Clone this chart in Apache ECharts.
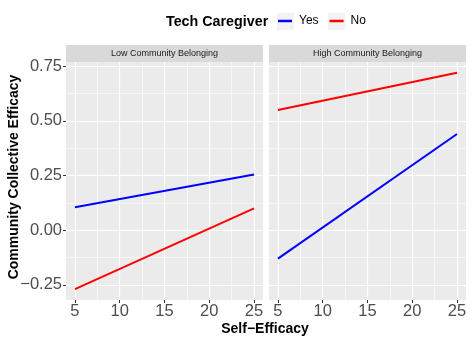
<!DOCTYPE html>
<html>
<head>
<meta charset="utf-8">
<script src="https://cdn.jsdelivr.net/npm/echarts@6/dist/echarts.min.js"></script>
<style>html,body{margin:0;padding:0;background:#fff}#c{width:474px;height:345px}</style>
</head>
<body>
<div id="c"></div>
<script>
// ---- data ----
const xValues = [5, 25];
const lowYes = [0.105, 0.255];
const lowNo = [-0.27, 0.10];
const highYes = [-0.13, 0.44];
const highNo = [0.55, 0.72];
const panelLabels = ['Low Community Belonging', 'High Community Belonging'];
const seriesNames = ['Yes', 'No'];
const xTicks = [5, 10, 15, 20, 25];
const xMinorTicks = [7.5, 12.5, 17.5, 22.5];
const yTicks = [-0.25, 0, 0.25, 0.5, 0.75];
const yMinorTicks = [-0.125, 0.125, 0.375, 0.625];

const FONT = 'Liberation Sans';
const colors = {Yes: '#0000FF', No: '#FF0000'};
const grids = [
  {left: 66, top: 62, width: 197, height: 238},
  {left: 269, top: 62, width: 197, height: 238}
];
const X_MIN = 4, X_MAX = 26, Y_MIN = -0.3195, Y_MAX = 0.7695;

const fmtY = v => (v < 0 ? '\u2212' : '') + Math.abs(v).toFixed(2);

const xAxes = [], yAxes = [];
grids.forEach((g, i) => {
  xAxes.push({
    type: 'value', gridIndex: i, min: X_MIN, max: X_MAX, position: 'bottom',
    axisLine: {show: false, onZero: false},
    axisTick: {show: true, length: 3, lineStyle: {color: '#333', width: 1}, customValues: xTicks},
    axisLabel: {show: true, customValues: xTicks, margin: 3, color: '#4d4d4d', fontSize: 16.5, fontFamily: FONT},
    splitLine: {show: true, lineStyle: {color: '#fff', width: 1.2}}
  });
  xAxes.push({
    type: 'value', gridIndex: i, min: X_MIN, max: X_MAX, position: 'bottom',
    axisLine: {show: false, onZero: false},
    axisTick: {show: false, customValues: xMinorTicks},
    axisLabel: {show: false, customValues: xMinorTicks},
    splitLine: {show: true, lineStyle: {color: '#fff', width: 0.6}}
  });
  yAxes.push({
    type: 'value', gridIndex: i, min: Y_MIN, max: Y_MAX, position: 'left',
    axisLine: {show: false, onZero: false},
    axisTick: {show: i === 0, length: 3, lineStyle: {color: '#333', width: 1}, customValues: yTicks},
    axisLabel: {show: i === 0, customValues: yTicks, margin: 4, color: '#4d4d4d', fontSize: 16.5, fontFamily: FONT, formatter: fmtY},
    splitLine: {show: true, lineStyle: {color: '#fff', width: 1.2}}
  });
  yAxes.push({
    type: 'value', gridIndex: i, min: Y_MIN, max: Y_MAX, position: 'left',
    axisLine: {show: false, onZero: false},
    axisTick: {show: false, customValues: yMinorTicks},
    axisLabel: {show: false, customValues: yMinorTicks},
    splitLine: {show: true, lineStyle: {color: '#fff', width: 0.6}}
  });
});

const panels = [[lowYes, lowNo], [highYes, highNo]];
const series = [];
panels.forEach((vals, i) => {
  vals.forEach((ys, k) => {
    const name = seriesNames[k];
    series.push({
      type: 'line', name: name, xAxisIndex: i * 2, yAxisIndex: i * 2,
      data: xValues.map((x, j) => [x, ys[j]]),
      symbol: 'none', silent: true, animation: false,
      lineStyle: {color: colors[name], width: 2},
      itemStyle: {color: colors[name]}
    });
  });
});

const graphic = [];
grids.forEach((g, i) => {
  graphic.push({
    type: 'rect', left: g.left, top: 45, shape: {width: g.width, height: 17},
    style: {fill: '#d9d9d9'}, silent: true
  });
  graphic.push({
    type: 'text', x: g.left + g.width / 2, y: 53.5,
    style: {text: panelLabels[i], fill: '#1a1a1a', font: '9px "' + FONT + '"', align: 'center', verticalAlign: 'middle'},
    silent: true
  });
});
// legend key backgrounds
[277, 328].forEach(x => graphic.push({
  type: 'rect', left: x, top: 13, shape: {width: 17, height: 17}, style: {fill: '#f2f2f2'}, silent: true, z: -1
}));
graphic.push({
  type: 'text', x: 166, y: 22,
  style: {text: 'Tech Caregiver', fill: '#000', font: 'bold 14.3px "' + FONT + '"', align: 'left', verticalAlign: 'middle'}
});
graphic.push({
  type: 'text', x: 265, y: 329,
  style: {text: 'Self\u2212Efficacy', fill: '#000', font: 'bold 14px "' + FONT + '"', align: 'center', verticalAlign: 'middle'}
});
graphic.push({
  type: 'text', x: 14, y: 177, rotation: Math.PI / 2,
  style: {text: 'Community Collective Efficacy', fill: '#000', font: 'bold 14px "' + FONT + '"', align: 'center', verticalAlign: 'middle'}
});

const option = {
  animation: false,
  backgroundColor: '#fff',
  grid: grids.map(g => Object.assign({show: true, backgroundColor: '#ebebeb', borderWidth: 0, containLabel: false}, g)),
  xAxis: xAxes,
  yAxis: yAxes,
  legend: {
    data: seriesNames, left: 278, top: 15, orient: 'horizontal',
    icon: 'rect', itemWidth: 14, itemHeight: 2.5, itemGap: 11,
    textStyle: {fontSize: 12, fontFamily: FONT, color: '#000', padding: [0, 0, 0, 2]},
    padding: 0, selectedMode: false
  },
  graphic: graphic,
  series: series
};
const chart = echarts.init(document.getElementById('c'), null, {renderer: 'canvas'});
chart.setOption(option);
</script>
</body>
</html>
